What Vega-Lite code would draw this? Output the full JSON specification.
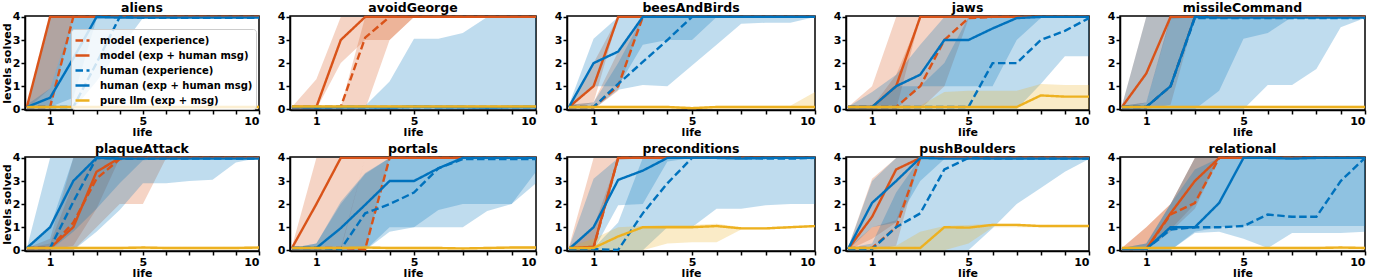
{"$schema":"https://vega.github.io/schema/vega-lite/v6.json",
"padding":{"left":0,"top":1,"right":0,"bottom":0},
"bounds":"flush",
"columns":5,
"spacing":{"row":47,"column":31},
"data":{"values":[
{"g":"al","s":"mE","x":0,"y":0.1,"lo":0,"hi":0.2},{"g":"al","s":"mE","x":1,"y":0.1,"lo":0,"hi":4},{"g":"al","s":"mE","x":2,"y":4,"lo":4,"hi":4},{"g":"al","s":"mE","x":3,"y":4,"lo":4,"hi":4},{"g":"al","s":"mE","x":4,"y":4,"lo":4,"hi":4},{"g":"al","s":"mE","x":5,"y":4,"lo":4,"hi":4},{"g":"al","s":"mE","x":6,"y":4,"lo":4,"hi":4},{"g":"al","s":"mE","x":7,"y":4,"lo":4,"hi":4},{"g":"al","s":"mE","x":8,"y":4,"lo":4,"hi":4},{"g":"al","s":"mE","x":9,"y":4,"lo":4,"hi":4},{"g":"al","s":"mE","x":10,"y":4,"lo":4,"hi":4},
{"g":"al","s":"mH","x":0,"y":0.1,"lo":0,"hi":0.2},{"g":"al","s":"mH","x":1,"y":4,"lo":0.9,"hi":4},{"g":"al","s":"mH","x":2,"y":4,"lo":4,"hi":4},{"g":"al","s":"mH","x":3,"y":4,"lo":4,"hi":4},{"g":"al","s":"mH","x":4,"y":4,"lo":4,"hi":4},{"g":"al","s":"mH","x":5,"y":4,"lo":4,"hi":4},{"g":"al","s":"mH","x":6,"y":4,"lo":4,"hi":4},{"g":"al","s":"mH","x":7,"y":4,"lo":4,"hi":4},{"g":"al","s":"mH","x":8,"y":4,"lo":4,"hi":4},{"g":"al","s":"mH","x":9,"y":4,"lo":4,"hi":4},{"g":"al","s":"mH","x":10,"y":4,"lo":4,"hi":4},
{"g":"al","s":"hE","x":0,"y":0.1,"lo":0,"hi":0.2},{"g":"al","s":"hE","x":1,"y":0.1,"lo":0,"hi":4},{"g":"al","s":"hE","x":2,"y":0.1,"lo":0,"hi":4},{"g":"al","s":"hE","x":3,"y":2,"lo":1.2,"hi":4},{"g":"al","s":"hE","x":4,"y":4,"lo":2.6,"hi":4},{"g":"al","s":"hE","x":5,"y":3.96,"lo":3.95,"hi":4},{"g":"al","s":"hE","x":6,"y":3.96,"lo":3.95,"hi":4},{"g":"al","s":"hE","x":7,"y":3.96,"lo":3.95,"hi":4},{"g":"al","s":"hE","x":8,"y":3.96,"lo":3.95,"hi":4},{"g":"al","s":"hE","x":9,"y":3.96,"lo":3.95,"hi":4},{"g":"al","s":"hE","x":10,"y":3.96,"lo":3.95,"hi":4},
{"g":"al","s":"hH","x":0,"y":0.1,"lo":0,"hi":0.2},{"g":"al","s":"hH","x":1,"y":0.5,"lo":0.1,"hi":0.9},{"g":"al","s":"hH","x":2,"y":2.2,"lo":0.5,"hi":4},{"g":"al","s":"hH","x":3,"y":4,"lo":3.9,"hi":4},{"g":"al","s":"hH","x":4,"y":3.97,"lo":3.95,"hi":4},{"g":"al","s":"hH","x":5,"y":3.97,"lo":3.95,"hi":4},{"g":"al","s":"hH","x":6,"y":3.97,"lo":3.95,"hi":4},{"g":"al","s":"hH","x":7,"y":3.97,"lo":3.95,"hi":4},{"g":"al","s":"hH","x":8,"y":3.97,"lo":3.95,"hi":4},{"g":"al","s":"hH","x":9,"y":3.97,"lo":3.95,"hi":4},{"g":"al","s":"hH","x":10,"y":3.97,"lo":3.95,"hi":4},
{"g":"al","s":"pl","x":0,"y":0.1,"lo":0.03,"hi":0.15},{"g":"al","s":"pl","x":1,"y":0.1,"lo":0.03,"hi":0.15},{"g":"al","s":"pl","x":2,"y":0.1,"lo":0.03,"hi":0.15},{"g":"al","s":"pl","x":3,"y":0.1,"lo":0.03,"hi":0.15},{"g":"al","s":"pl","x":4,"y":0.1,"lo":0.03,"hi":0.15},{"g":"al","s":"pl","x":5,"y":0.1,"lo":0.03,"hi":0.15},{"g":"al","s":"pl","x":6,"y":0.1,"lo":0.03,"hi":0.15},{"g":"al","s":"pl","x":7,"y":0.1,"lo":0.03,"hi":0.15},{"g":"al","s":"pl","x":8,"y":0.1,"lo":0.03,"hi":0.15},{"g":"al","s":"pl","x":9,"y":0.1,"lo":0.03,"hi":0.15},{"g":"al","s":"pl","x":10,"y":0.1,"lo":0.03,"hi":0.15},

{"g":"ag","s":"mE","x":0,"y":0.1,"lo":0,"hi":0.1},{"g":"ag","s":"mE","x":1,"y":0.1,"lo":0,"hi":0.1},{"g":"ag","s":"mE","x":2,"y":0.1,"lo":0,"hi":0.1},{"g":"ag","s":"mE","x":3,"y":3.1,"lo":0,"hi":4},{"g":"ag","s":"mE","x":4,"y":4,"lo":3,"hi":4},{"g":"ag","s":"mE","x":5,"y":4,"lo":4,"hi":4},{"g":"ag","s":"mE","x":6,"y":4,"lo":4,"hi":4},{"g":"ag","s":"mE","x":7,"y":4,"lo":4,"hi":4},{"g":"ag","s":"mE","x":8,"y":4,"lo":4,"hi":4},{"g":"ag","s":"mE","x":9,"y":4,"lo":4,"hi":4},{"g":"ag","s":"mE","x":10,"y":4,"lo":4,"hi":4},
{"g":"ag","s":"mH","x":0,"y":0.1,"lo":0,"hi":0.1},{"g":"ag","s":"mH","x":1,"y":0.1,"lo":0,"hi":1.3},{"g":"ag","s":"mH","x":2,"y":3,"lo":2,"hi":4},{"g":"ag","s":"mH","x":3,"y":4,"lo":3,"hi":4},{"g":"ag","s":"mH","x":4,"y":4,"lo":3,"hi":4},{"g":"ag","s":"mH","x":5,"y":4,"lo":4,"hi":4},{"g":"ag","s":"mH","x":6,"y":4,"lo":4,"hi":4},{"g":"ag","s":"mH","x":7,"y":4,"lo":4,"hi":4},{"g":"ag","s":"mH","x":8,"y":4,"lo":4,"hi":4},{"g":"ag","s":"mH","x":9,"y":4,"lo":4,"hi":4},{"g":"ag","s":"mH","x":10,"y":4,"lo":4,"hi":4},
{"g":"ag","s":"hE","x":0,"y":0.1,"lo":0,"hi":0.15},{"g":"ag","s":"hE","x":1,"y":0.1,"lo":0,"hi":0.15},{"g":"ag","s":"hE","x":2,"y":0.1,"lo":0,"hi":0.15},{"g":"ag","s":"hE","x":3,"y":0.1,"lo":0,"hi":0.15},{"g":"ag","s":"hE","x":4,"y":0.1,"lo":0,"hi":0.15},{"g":"ag","s":"hE","x":5,"y":0.1,"lo":0,"hi":0.15},{"g":"ag","s":"hE","x":6,"y":0.1,"lo":0,"hi":0.15},{"g":"ag","s":"hE","x":7,"y":0.1,"lo":0,"hi":0.15},{"g":"ag","s":"hE","x":8,"y":0.1,"lo":0,"hi":0.15},{"g":"ag","s":"hE","x":9,"y":0.1,"lo":0,"hi":0.15},{"g":"ag","s":"hE","x":10,"y":0.1,"lo":0,"hi":0.15},
{"g":"ag","s":"hH","x":0,"y":0.1,"lo":0,"hi":0.15},{"g":"ag","s":"hH","x":1,"y":0.08,"lo":0,"hi":0.15},{"g":"ag","s":"hH","x":2,"y":0.1,"lo":0,"hi":0.15},{"g":"ag","s":"hH","x":3,"y":0.1,"lo":0,"hi":0.15},{"g":"ag","s":"hH","x":4,"y":0.08,"lo":0,"hi":1.2},{"g":"ag","s":"hH","x":5,"y":0.12,"lo":0,"hi":3.05},{"g":"ag","s":"hH","x":6,"y":0.1,"lo":0,"hi":3.05},{"g":"ag","s":"hH","x":7,"y":0.1,"lo":0,"hi":3.3},{"g":"ag","s":"hH","x":8,"y":0.08,"lo":0,"hi":4},{"g":"ag","s":"hH","x":9,"y":0.1,"lo":0,"hi":4},{"g":"ag","s":"hH","x":10,"y":0.1,"lo":0,"hi":4},
{"g":"ag","s":"pl","x":0,"y":0.12,"lo":0.05,"hi":0.18},{"g":"ag","s":"pl","x":1,"y":0.12,"lo":0.05,"hi":0.18},{"g":"ag","s":"pl","x":2,"y":0.12,"lo":0.05,"hi":0.18},{"g":"ag","s":"pl","x":3,"y":0.12,"lo":0.05,"hi":0.18},{"g":"ag","s":"pl","x":4,"y":0.12,"lo":0.05,"hi":0.18},{"g":"ag","s":"pl","x":5,"y":0.12,"lo":0.05,"hi":0.18},{"g":"ag","s":"pl","x":6,"y":0.12,"lo":0.05,"hi":0.18},{"g":"ag","s":"pl","x":7,"y":0.12,"lo":0.05,"hi":0.18},{"g":"ag","s":"pl","x":8,"y":0.12,"lo":0.05,"hi":0.18},{"g":"ag","s":"pl","x":9,"y":0.12,"lo":0.05,"hi":0.18},{"g":"ag","s":"pl","x":10,"y":0.12,"lo":0.05,"hi":0.18},

{"g":"bb","s":"mE","x":0,"y":0.1,"lo":0,"hi":0.2},{"g":"bb","s":"mE","x":1,"y":0.1,"lo":0,"hi":0.3},{"g":"bb","s":"mE","x":2,"y":1,"lo":0.8,"hi":2.5},{"g":"bb","s":"mE","x":3,"y":4,"lo":4,"hi":4},{"g":"bb","s":"mE","x":4,"y":4,"lo":4,"hi":4},{"g":"bb","s":"mE","x":5,"y":4,"lo":4,"hi":4},{"g":"bb","s":"mE","x":6,"y":4,"lo":4,"hi":4},{"g":"bb","s":"mE","x":7,"y":4,"lo":4,"hi":4},{"g":"bb","s":"mE","x":8,"y":4,"lo":4,"hi":4},{"g":"bb","s":"mE","x":9,"y":4,"lo":4,"hi":4},{"g":"bb","s":"mE","x":10,"y":4,"lo":4,"hi":4},
{"g":"bb","s":"mH","x":0,"y":0.1,"lo":0,"hi":0.2},{"g":"bb","s":"mH","x":1,"y":1,"lo":0.3,"hi":2},{"g":"bb","s":"mH","x":2,"y":4,"lo":4,"hi":4},{"g":"bb","s":"mH","x":3,"y":4,"lo":4,"hi":4},{"g":"bb","s":"mH","x":4,"y":4,"lo":4,"hi":4},{"g":"bb","s":"mH","x":5,"y":4,"lo":4,"hi":4},{"g":"bb","s":"mH","x":6,"y":4,"lo":4,"hi":4},{"g":"bb","s":"mH","x":7,"y":4,"lo":4,"hi":4},{"g":"bb","s":"mH","x":8,"y":4,"lo":4,"hi":4},{"g":"bb","s":"mH","x":9,"y":4,"lo":4,"hi":4},{"g":"bb","s":"mH","x":10,"y":4,"lo":4,"hi":4},
{"g":"bb","s":"hE","x":0,"y":0.1,"lo":0,"hi":0.2},{"g":"bb","s":"hE","x":1,"y":0.1,"lo":0,"hi":0.3},{"g":"bb","s":"hE","x":2,"y":1.1,"lo":0.85,"hi":2},{"g":"bb","s":"hE","x":3,"y":2.05,"lo":1.05,"hi":4},{"g":"bb","s":"hE","x":4,"y":3,"lo":1,"hi":4},{"g":"bb","s":"hE","x":5,"y":4,"lo":1.9,"hi":4},{"g":"bb","s":"hE","x":6,"y":4,"lo":2.8,"hi":4},{"g":"bb","s":"hE","x":7,"y":4,"lo":3.7,"hi":4},{"g":"bb","s":"hE","x":8,"y":4,"lo":3.75,"hi":4},{"g":"bb","s":"hE","x":9,"y":4,"lo":3.75,"hi":4},{"g":"bb","s":"hE","x":10,"y":4,"lo":4,"hi":4},
{"g":"bb","s":"hH","x":0,"y":0.1,"lo":0,"hi":0.2},{"g":"bb","s":"hH","x":1,"y":2,"lo":1,"hi":3.05},{"g":"bb","s":"hH","x":2,"y":2.5,"lo":1,"hi":4},{"g":"bb","s":"hH","x":3,"y":4,"lo":2.8,"hi":4},{"g":"bb","s":"hH","x":4,"y":4,"lo":3,"hi":4},{"g":"bb","s":"hH","x":5,"y":4,"lo":3,"hi":4},{"g":"bb","s":"hH","x":6,"y":4,"lo":4,"hi":4},{"g":"bb","s":"hH","x":7,"y":4,"lo":4,"hi":4},{"g":"bb","s":"hH","x":8,"y":4,"lo":4,"hi":4},{"g":"bb","s":"hH","x":9,"y":4,"lo":4,"hi":4},{"g":"bb","s":"hH","x":10,"y":4,"lo":4,"hi":4},
{"g":"bb","s":"pl","x":0,"y":0.1,"lo":0.02,"hi":0.15},{"g":"bb","s":"pl","x":1,"y":0.1,"lo":0.02,"hi":0.15},{"g":"bb","s":"pl","x":2,"y":0.1,"lo":0.02,"hi":0.15},{"g":"bb","s":"pl","x":3,"y":0.1,"lo":0.02,"hi":0.15},{"g":"bb","s":"pl","x":4,"y":0.1,"lo":0.02,"hi":0.15},{"g":"bb","s":"pl","x":5,"y":0.05,"lo":0.02,"hi":0.1},{"g":"bb","s":"pl","x":6,"y":0.1,"lo":0.02,"hi":0.15},{"g":"bb","s":"pl","x":7,"y":0.1,"lo":0.02,"hi":0.15},{"g":"bb","s":"pl","x":8,"y":0.1,"lo":0.02,"hi":0.15},{"g":"bb","s":"pl","x":9,"y":0.1,"lo":0.02,"hi":0.15},{"g":"bb","s":"pl","x":10,"y":0.1,"lo":0.02,"hi":0.75},

{"g":"jw","s":"mE","x":0,"y":0.1,"lo":0,"hi":0.1},{"g":"jw","s":"mE","x":1,"y":0.1,"lo":0,"hi":0.1},{"g":"jw","s":"mE","x":2,"y":0.1,"lo":0,"hi":1.5},{"g":"jw","s":"mE","x":3,"y":1,"lo":0,"hi":4},{"g":"jw","s":"mE","x":4,"y":3,"lo":1,"hi":4},{"g":"jw","s":"mE","x":5,"y":3.95,"lo":3.9,"hi":4},{"g":"jw","s":"mE","x":6,"y":4,"lo":4,"hi":4},{"g":"jw","s":"mE","x":7,"y":4,"lo":4,"hi":4},{"g":"jw","s":"mE","x":8,"y":4,"lo":4,"hi":4},{"g":"jw","s":"mE","x":9,"y":4,"lo":4,"hi":4},{"g":"jw","s":"mE","x":10,"y":4,"lo":4,"hi":4},
{"g":"jw","s":"mH","x":0,"y":0.1,"lo":0,"hi":0.1},{"g":"jw","s":"mH","x":1,"y":0.1,"lo":0,"hi":1},{"g":"jw","s":"mH","x":2,"y":1,"lo":0,"hi":4},{"g":"jw","s":"mH","x":3,"y":4,"lo":4,"hi":4},{"g":"jw","s":"mH","x":4,"y":4,"lo":4,"hi":4},{"g":"jw","s":"mH","x":5,"y":4,"lo":4,"hi":4},{"g":"jw","s":"mH","x":6,"y":4,"lo":4,"hi":4},{"g":"jw","s":"mH","x":7,"y":4,"lo":4,"hi":4},{"g":"jw","s":"mH","x":8,"y":4,"lo":4,"hi":4},{"g":"jw","s":"mH","x":9,"y":4,"lo":4,"hi":4},{"g":"jw","s":"mH","x":10,"y":4,"lo":4,"hi":4},
{"g":"jw","s":"hE","x":0,"y":0.1,"lo":0,"hi":0.1},{"g":"jw","s":"hE","x":1,"y":0.1,"lo":0,"hi":0.1},{"g":"jw","s":"hE","x":2,"y":0.1,"lo":0,"hi":1},{"g":"jw","s":"hE","x":3,"y":0.1,"lo":0,"hi":1},{"g":"jw","s":"hE","x":4,"y":0.1,"lo":0,"hi":2},{"g":"jw","s":"hE","x":5,"y":0.1,"lo":0,"hi":4},{"g":"jw","s":"hE","x":6,"y":2,"lo":0,"hi":4},{"g":"jw","s":"hE","x":7,"y":2,"lo":0,"hi":4},{"g":"jw","s":"hE","x":8,"y":3,"lo":1.1,"hi":4},{"g":"jw","s":"hE","x":9,"y":3.4,"lo":2.3,"hi":4},{"g":"jw","s":"hE","x":10,"y":3.95,"lo":2.3,"hi":4},
{"g":"jw","s":"hH","x":0,"y":0.1,"lo":0,"hi":0.1},{"g":"jw","s":"hH","x":1,"y":0.1,"lo":0,"hi":0.75},{"g":"jw","s":"hH","x":2,"y":1,"lo":0,"hi":1.5},{"g":"jw","s":"hH","x":3,"y":1.5,"lo":1,"hi":2.8},{"g":"jw","s":"hH","x":4,"y":3,"lo":1,"hi":4},{"g":"jw","s":"hH","x":5,"y":3,"lo":1,"hi":4},{"g":"jw","s":"hH","x":6,"y":3.5,"lo":1,"hi":4},{"g":"jw","s":"hH","x":7,"y":3.95,"lo":3,"hi":4},{"g":"jw","s":"hH","x":8,"y":4,"lo":3.95,"hi":4},{"g":"jw","s":"hH","x":9,"y":4,"lo":3.95,"hi":4},{"g":"jw","s":"hH","x":10,"y":4,"lo":3.95,"hi":4},
{"g":"jw","s":"pl","x":0,"y":0.1,"lo":0,"hi":0.15},{"g":"jw","s":"pl","x":1,"y":0.1,"lo":0,"hi":0.15},{"g":"jw","s":"pl","x":2,"y":0.1,"lo":0,"hi":0.15},{"g":"jw","s":"pl","x":3,"y":0.1,"lo":0,"hi":0.15},{"g":"jw","s":"pl","x":4,"y":0.1,"lo":0,"hi":0.75},{"g":"jw","s":"pl","x":5,"y":0.1,"lo":0,"hi":0.8},{"g":"jw","s":"pl","x":6,"y":0.1,"lo":0,"hi":0.8},{"g":"jw","s":"pl","x":7,"y":0.1,"lo":0,"hi":0.8},{"g":"jw","s":"pl","x":8,"y":0.6,"lo":0,"hi":1.1},{"g":"jw","s":"pl","x":9,"y":0.55,"lo":0,"hi":1.05},{"g":"jw","s":"pl","x":10,"y":0.55,"lo":0,"hi":1.05},

{"g":"mc","s":"mE","x":0,"y":0.1,"lo":0,"hi":0.15},{"g":"mc","s":"mE","x":1,"y":0.1,"lo":0,"hi":0.3},{"g":"mc","s":"mE","x":2,"y":1,"lo":0.2,"hi":4},{"g":"mc","s":"mE","x":3,"y":4,"lo":4,"hi":4},{"g":"mc","s":"mE","x":4,"y":4,"lo":4,"hi":4},{"g":"mc","s":"mE","x":5,"y":4,"lo":4,"hi":4},{"g":"mc","s":"mE","x":6,"y":4,"lo":4,"hi":4},{"g":"mc","s":"mE","x":7,"y":4,"lo":4,"hi":4},{"g":"mc","s":"mE","x":8,"y":4,"lo":4,"hi":4},{"g":"mc","s":"mE","x":9,"y":4,"lo":4,"hi":4},{"g":"mc","s":"mE","x":10,"y":4,"lo":4,"hi":4},
{"g":"mc","s":"mH","x":0,"y":0.1,"lo":0,"hi":0.15},{"g":"mc","s":"mH","x":1,"y":1.55,"lo":0.3,"hi":4},{"g":"mc","s":"mH","x":2,"y":4,"lo":3.9,"hi":4},{"g":"mc","s":"mH","x":3,"y":4,"lo":4,"hi":4},{"g":"mc","s":"mH","x":4,"y":4,"lo":4,"hi":4},{"g":"mc","s":"mH","x":5,"y":4,"lo":4,"hi":4},{"g":"mc","s":"mH","x":6,"y":4,"lo":4,"hi":4},{"g":"mc","s":"mH","x":7,"y":4,"lo":4,"hi":4},{"g":"mc","s":"mH","x":8,"y":4,"lo":4,"hi":4},{"g":"mc","s":"mH","x":9,"y":4,"lo":4,"hi":4},{"g":"mc","s":"mH","x":10,"y":4,"lo":4,"hi":4},
{"g":"mc","s":"hE","x":0,"y":0.1,"lo":0,"hi":0.15},{"g":"mc","s":"hE","x":1,"y":0.1,"lo":0,"hi":4},{"g":"mc","s":"hE","x":2,"y":1,"lo":0,"hi":4},{"g":"mc","s":"hE","x":3,"y":3.95,"lo":0,"hi":4},{"g":"mc","s":"hE","x":4,"y":3.95,"lo":0,"hi":4},{"g":"mc","s":"hE","x":5,"y":3.95,"lo":0,"hi":4},{"g":"mc","s":"hE","x":6,"y":3.95,"lo":1.05,"hi":4},{"g":"mc","s":"hE","x":7,"y":3.95,"lo":1.05,"hi":4},{"g":"mc","s":"hE","x":8,"y":3.95,"lo":1.75,"hi":4},{"g":"mc","s":"hE","x":9,"y":3.95,"lo":3.55,"hi":4},{"g":"mc","s":"hE","x":10,"y":3.95,"lo":3.95,"hi":4},
{"g":"mc","s":"hH","x":0,"y":0.1,"lo":0,"hi":0.15},{"g":"mc","s":"hH","x":1,"y":0.1,"lo":0,"hi":0.3},{"g":"mc","s":"hH","x":2,"y":1,"lo":0,"hi":4},{"g":"mc","s":"hH","x":3,"y":4,"lo":0,"hi":4},{"g":"mc","s":"hH","x":4,"y":3.97,"lo":0.8,"hi":4},{"g":"mc","s":"hH","x":5,"y":3.97,"lo":3.05,"hi":4},{"g":"mc","s":"hH","x":6,"y":3.97,"lo":3.3,"hi":4},{"g":"mc","s":"hH","x":7,"y":3.97,"lo":4,"hi":4},{"g":"mc","s":"hH","x":8,"y":3.97,"lo":4,"hi":4},{"g":"mc","s":"hH","x":9,"y":3.97,"lo":4,"hi":4},{"g":"mc","s":"hH","x":10,"y":3.97,"lo":4,"hi":4},
{"g":"mc","s":"pl","x":0,"y":0.1,"lo":0.03,"hi":0.15},{"g":"mc","s":"pl","x":1,"y":0.1,"lo":0.03,"hi":0.15},{"g":"mc","s":"pl","x":2,"y":0.1,"lo":0.03,"hi":0.15},{"g":"mc","s":"pl","x":3,"y":0.1,"lo":0.03,"hi":0.15},{"g":"mc","s":"pl","x":4,"y":0.1,"lo":0.03,"hi":0.15},{"g":"mc","s":"pl","x":5,"y":0.1,"lo":0.03,"hi":0.15},{"g":"mc","s":"pl","x":6,"y":0.1,"lo":0.03,"hi":0.15},{"g":"mc","s":"pl","x":7,"y":0.1,"lo":0.03,"hi":0.15},{"g":"mc","s":"pl","x":8,"y":0.1,"lo":0.03,"hi":0.15},{"g":"mc","s":"pl","x":9,"y":0.1,"lo":0.03,"hi":0.15},{"g":"mc","s":"pl","x":10,"y":0.1,"lo":0.03,"hi":0.15},

{"g":"pa","s":"mE","x":0,"y":0.1,"lo":0,"hi":0.1},{"g":"pa","s":"mE","x":1,"y":0.1,"lo":0,"hi":0.3},{"g":"pa","s":"mE","x":2,"y":1.2,"lo":0,"hi":2.9},{"g":"pa","s":"mE","x":3,"y":3.1,"lo":1,"hi":4},{"g":"pa","s":"mE","x":4,"y":3.95,"lo":2,"hi":4},{"g":"pa","s":"mE","x":5,"y":4,"lo":2,"hi":4},{"g":"pa","s":"mE","x":6,"y":4,"lo":4,"hi":4},{"g":"pa","s":"mE","x":7,"y":4,"lo":4,"hi":4},{"g":"pa","s":"mE","x":8,"y":4,"lo":4,"hi":4},{"g":"pa","s":"mE","x":9,"y":4,"lo":4,"hi":4},{"g":"pa","s":"mE","x":10,"y":4,"lo":4,"hi":4},
{"g":"pa","s":"mH","x":0,"y":0.1,"lo":0,"hi":0.1},{"g":"pa","s":"mH","x":1,"y":0.1,"lo":0,"hi":0.5},{"g":"pa","s":"mH","x":2,"y":1,"lo":0.2,"hi":4},{"g":"pa","s":"mH","x":3,"y":3.4,"lo":1.8,"hi":4},{"g":"pa","s":"mH","x":4,"y":4,"lo":4,"hi":4},{"g":"pa","s":"mH","x":5,"y":4,"lo":4,"hi":4},{"g":"pa","s":"mH","x":6,"y":4,"lo":4,"hi":4},{"g":"pa","s":"mH","x":7,"y":4,"lo":4,"hi":4},{"g":"pa","s":"mH","x":8,"y":4,"lo":4,"hi":4},{"g":"pa","s":"mH","x":9,"y":4,"lo":4,"hi":4},{"g":"pa","s":"mH","x":10,"y":4,"lo":4,"hi":4},
{"g":"pa","s":"hE","x":0,"y":0.1,"lo":0,"hi":0.1},{"g":"pa","s":"hE","x":1,"y":0.1,"lo":0,"hi":1},{"g":"pa","s":"hE","x":2,"y":2.1,"lo":0,"hi":4},{"g":"pa","s":"hE","x":3,"y":4,"lo":0.8,"hi":4},{"g":"pa","s":"hE","x":4,"y":3.97,"lo":1.75,"hi":4},{"g":"pa","s":"hE","x":5,"y":3.97,"lo":2.9,"hi":4},{"g":"pa","s":"hE","x":6,"y":3.97,"lo":2.9,"hi":4},{"g":"pa","s":"hE","x":7,"y":3.97,"lo":3,"hi":4},{"g":"pa","s":"hE","x":8,"y":3.97,"lo":3.05,"hi":4},{"g":"pa","s":"hE","x":9,"y":3.97,"lo":3.8,"hi":4},{"g":"pa","s":"hE","x":10,"y":3.97,"lo":4,"hi":4},
{"g":"pa","s":"hH","x":0,"y":0.1,"lo":0,"hi":0.1},{"g":"pa","s":"hH","x":1,"y":1,"lo":0,"hi":4},{"g":"pa","s":"hH","x":2,"y":3,"lo":0.8,"hi":4},{"g":"pa","s":"hH","x":3,"y":4,"lo":1.8,"hi":4},{"g":"pa","s":"hH","x":4,"y":3.97,"lo":2.9,"hi":4},{"g":"pa","s":"hH","x":5,"y":3.97,"lo":3.9,"hi":4},{"g":"pa","s":"hH","x":6,"y":3.97,"lo":3.95,"hi":4},{"g":"pa","s":"hH","x":7,"y":3.97,"lo":3.95,"hi":4},{"g":"pa","s":"hH","x":8,"y":3.97,"lo":3.95,"hi":4},{"g":"pa","s":"hH","x":9,"y":3.97,"lo":3.95,"hi":4},{"g":"pa","s":"hH","x":10,"y":3.97,"lo":3.95,"hi":4},
{"g":"pa","s":"pl","x":0,"y":0.1,"lo":0.03,"hi":0.15},{"g":"pa","s":"pl","x":1,"y":0.1,"lo":0.03,"hi":0.15},{"g":"pa","s":"pl","x":2,"y":0.1,"lo":0.03,"hi":0.15},{"g":"pa","s":"pl","x":3,"y":0.1,"lo":0.03,"hi":0.15},{"g":"pa","s":"pl","x":4,"y":0.1,"lo":0.03,"hi":0.15},{"g":"pa","s":"pl","x":5,"y":0.12,"lo":0.03,"hi":0.18},{"g":"pa","s":"pl","x":6,"y":0.1,"lo":0.03,"hi":0.15},{"g":"pa","s":"pl","x":7,"y":0.1,"lo":0.03,"hi":0.15},{"g":"pa","s":"pl","x":8,"y":0.1,"lo":0.03,"hi":0.15},{"g":"pa","s":"pl","x":9,"y":0.1,"lo":0.03,"hi":0.15},{"g":"pa","s":"pl","x":10,"y":0.12,"lo":0.03,"hi":0.18},

{"g":"po","s":"mE","x":0,"y":0.1,"lo":0,"hi":0.1},{"g":"po","s":"mE","x":1,"y":0.1,"lo":0,"hi":0.1},{"g":"po","s":"mE","x":2,"y":0.1,"lo":0,"hi":0.1},{"g":"po","s":"mE","x":3,"y":0.05,"lo":0,"hi":4},{"g":"po","s":"mE","x":4,"y":4,"lo":4,"hi":4},{"g":"po","s":"mE","x":5,"y":4,"lo":4,"hi":4},{"g":"po","s":"mE","x":6,"y":4,"lo":4,"hi":4},{"g":"po","s":"mE","x":7,"y":4,"lo":4,"hi":4},{"g":"po","s":"mE","x":8,"y":4,"lo":4,"hi":4},{"g":"po","s":"mE","x":9,"y":4,"lo":4,"hi":4},{"g":"po","s":"mE","x":10,"y":4,"lo":4,"hi":4},
{"g":"po","s":"mH","x":0,"y":0.1,"lo":0,"hi":0.15},{"g":"po","s":"mH","x":1,"y":2,"lo":0,"hi":4},{"g":"po","s":"mH","x":2,"y":4,"lo":0,"hi":4},{"g":"po","s":"mH","x":3,"y":4,"lo":4,"hi":4},{"g":"po","s":"mH","x":4,"y":4,"lo":4,"hi":4},{"g":"po","s":"mH","x":5,"y":4,"lo":4,"hi":4},{"g":"po","s":"mH","x":6,"y":4,"lo":4,"hi":4},{"g":"po","s":"mH","x":7,"y":4,"lo":4,"hi":4},{"g":"po","s":"mH","x":8,"y":4,"lo":4,"hi":4},{"g":"po","s":"mH","x":9,"y":4,"lo":4,"hi":4},{"g":"po","s":"mH","x":10,"y":4,"lo":4,"hi":4},
{"g":"po","s":"hE","x":0,"y":0.1,"lo":0,"hi":0.1},{"g":"po","s":"hE","x":1,"y":0.1,"lo":0,"hi":0.3},{"g":"po","s":"hE","x":2,"y":0.05,"lo":0,"hi":2},{"g":"po","s":"hE","x":3,"y":1.6,"lo":0,"hi":3.3},{"g":"po","s":"hE","x":4,"y":2,"lo":0.8,"hi":4},{"g":"po","s":"hE","x":5,"y":2.5,"lo":1,"hi":4},{"g":"po","s":"hE","x":6,"y":3.55,"lo":1,"hi":4},{"g":"po","s":"hE","x":7,"y":3.95,"lo":1,"hi":4},{"g":"po","s":"hE","x":8,"y":3.95,"lo":1.7,"hi":4},{"g":"po","s":"hE","x":9,"y":3.95,"lo":2,"hi":4},{"g":"po","s":"hE","x":10,"y":3.95,"lo":2.9,"hi":4},
{"g":"po","s":"hH","x":0,"y":0.1,"lo":0,"hi":0.1},{"g":"po","s":"hH","x":1,"y":0.1,"lo":0,"hi":0.3},{"g":"po","s":"hH","x":2,"y":0.96,"lo":0,"hi":2.1},{"g":"po","s":"hH","x":3,"y":1.97,"lo":0,"hi":3.35},{"g":"po","s":"hH","x":4,"y":3,"lo":1,"hi":4},{"g":"po","s":"hH","x":5,"y":3,"lo":1,"hi":4},{"g":"po","s":"hH","x":6,"y":3.55,"lo":1.75,"hi":4},{"g":"po","s":"hH","x":7,"y":4,"lo":2,"hi":4},{"g":"po","s":"hH","x":8,"y":4,"lo":2,"hi":4},{"g":"po","s":"hH","x":9,"y":4,"lo":2,"hi":4},{"g":"po","s":"hH","x":10,"y":4,"lo":3.4,"hi":4},
{"g":"po","s":"pl","x":0,"y":0.1,"lo":0.03,"hi":0.15},{"g":"po","s":"pl","x":1,"y":0.1,"lo":0.03,"hi":0.15},{"g":"po","s":"pl","x":2,"y":0.1,"lo":0.03,"hi":0.15},{"g":"po","s":"pl","x":3,"y":0.12,"lo":0.03,"hi":0.18},{"g":"po","s":"pl","x":4,"y":0.1,"lo":0.03,"hi":0.15},{"g":"po","s":"pl","x":5,"y":0.1,"lo":0.03,"hi":0.15},{"g":"po","s":"pl","x":6,"y":0.1,"lo":0.03,"hi":0.15},{"g":"po","s":"pl","x":7,"y":0.08,"lo":0.03,"hi":0.12},{"g":"po","s":"pl","x":8,"y":0.1,"lo":0.03,"hi":0.15},{"g":"po","s":"pl","x":9,"y":0.12,"lo":0.03,"hi":0.18},{"g":"po","s":"pl","x":10,"y":0.12,"lo":0.03,"hi":0.18},

{"g":"pc","s":"mE","x":0,"y":0.1,"lo":0,"hi":0.15},{"g":"pc","s":"mE","x":1,"y":0.1,"lo":0,"hi":1},{"g":"pc","s":"mE","x":2,"y":4,"lo":4,"hi":4},{"g":"pc","s":"mE","x":3,"y":4,"lo":4,"hi":4},{"g":"pc","s":"mE","x":4,"y":4,"lo":4,"hi":4},{"g":"pc","s":"mE","x":5,"y":4,"lo":4,"hi":4},{"g":"pc","s":"mE","x":6,"y":4,"lo":4,"hi":4},{"g":"pc","s":"mE","x":7,"y":4,"lo":4,"hi":4},{"g":"pc","s":"mE","x":8,"y":4,"lo":4,"hi":4},{"g":"pc","s":"mE","x":9,"y":4,"lo":4,"hi":4},{"g":"pc","s":"mE","x":10,"y":4,"lo":4,"hi":4},
{"g":"pc","s":"mH","x":0,"y":0.1,"lo":0,"hi":0.15},{"g":"pc","s":"mH","x":1,"y":0.15,"lo":0,"hi":4},{"g":"pc","s":"mH","x":2,"y":4,"lo":3.9,"hi":4},{"g":"pc","s":"mH","x":3,"y":4,"lo":4,"hi":4},{"g":"pc","s":"mH","x":4,"y":4,"lo":4,"hi":4},{"g":"pc","s":"mH","x":5,"y":4,"lo":4,"hi":4},{"g":"pc","s":"mH","x":6,"y":4,"lo":4,"hi":4},{"g":"pc","s":"mH","x":7,"y":4,"lo":4,"hi":4},{"g":"pc","s":"mH","x":8,"y":4,"lo":4,"hi":4},{"g":"pc","s":"mH","x":9,"y":4,"lo":4,"hi":4},{"g":"pc","s":"mH","x":10,"y":4,"lo":4,"hi":4},
{"g":"pc","s":"hE","x":0,"y":0.05,"lo":0,"hi":0.1},{"g":"pc","s":"hE","x":1,"y":0.05,"lo":0,"hi":0.1},{"g":"pc","s":"hE","x":2,"y":0.02,"lo":0,"hi":1.2},{"g":"pc","s":"hE","x":3,"y":1.6,"lo":0,"hi":4},{"g":"pc","s":"hE","x":4,"y":2.9,"lo":1,"hi":4},{"g":"pc","s":"hE","x":5,"y":4,"lo":1,"hi":4},{"g":"pc","s":"hE","x":6,"y":4,"lo":1.8,"hi":4},{"g":"pc","s":"hE","x":7,"y":4,"lo":1.8,"hi":4},{"g":"pc","s":"hE","x":8,"y":3.97,"lo":1.95,"hi":4},{"g":"pc","s":"hE","x":9,"y":3.97,"lo":2,"hi":4},{"g":"pc","s":"hE","x":10,"y":4,"lo":2,"hi":4},
{"g":"pc","s":"hH","x":0,"y":0.05,"lo":0,"hi":0.1},{"g":"pc","s":"hH","x":1,"y":1,"lo":0,"hi":3.1},{"g":"pc","s":"hH","x":2,"y":3.05,"lo":1.95,"hi":4},{"g":"pc","s":"hH","x":3,"y":3.45,"lo":2,"hi":4},{"g":"pc","s":"hH","x":4,"y":4,"lo":3.85,"hi":4},{"g":"pc","s":"hH","x":5,"y":4,"lo":4,"hi":4},{"g":"pc","s":"hH","x":6,"y":4,"lo":4,"hi":4},{"g":"pc","s":"hH","x":7,"y":3.97,"lo":3.95,"hi":4},{"g":"pc","s":"hH","x":8,"y":4,"lo":4,"hi":4},{"g":"pc","s":"hH","x":9,"y":4,"lo":4,"hi":4},{"g":"pc","s":"hH","x":10,"y":4,"lo":4,"hi":4},
{"g":"pc","s":"pl","x":0,"y":0.1,"lo":0,"hi":0.15},{"g":"pc","s":"pl","x":1,"y":0.1,"lo":0,"hi":0.5},{"g":"pc","s":"pl","x":2,"y":0.6,"lo":0,"hi":1},{"g":"pc","s":"pl","x":3,"y":1,"lo":0,"hi":1.05},{"g":"pc","s":"pl","x":4,"y":1,"lo":0.3,"hi":1.1},{"g":"pc","s":"pl","x":5,"y":1,"lo":0.35,"hi":1.1},{"g":"pc","s":"pl","x":6,"y":1.05,"lo":0.35,"hi":1.15},{"g":"pc","s":"pl","x":7,"y":0.95,"lo":0.9,"hi":1},{"g":"pc","s":"pl","x":8,"y":0.95,"lo":0.9,"hi":1},{"g":"pc","s":"pl","x":9,"y":1,"lo":0.95,"hi":1.05},{"g":"pc","s":"pl","x":10,"y":1.05,"lo":1,"hi":1.1},

{"g":"pb","s":"mE","x":0,"y":0.1,"lo":0,"hi":0.1},{"g":"pb","s":"mE","x":1,"y":0.1,"lo":0,"hi":1},{"g":"pb","s":"mE","x":2,"y":1,"lo":0.2,"hi":1.3},{"g":"pb","s":"mE","x":3,"y":4,"lo":4,"hi":4},{"g":"pb","s":"mE","x":4,"y":4,"lo":4,"hi":4},{"g":"pb","s":"mE","x":5,"y":4,"lo":4,"hi":4},{"g":"pb","s":"mE","x":6,"y":4,"lo":4,"hi":4},{"g":"pb","s":"mE","x":7,"y":4,"lo":4,"hi":4},{"g":"pb","s":"mE","x":8,"y":4,"lo":4,"hi":4},{"g":"pb","s":"mE","x":9,"y":4,"lo":4,"hi":4},{"g":"pb","s":"mE","x":10,"y":4,"lo":4,"hi":4},
{"g":"pb","s":"mH","x":0,"y":0.05,"lo":0,"hi":0.1},{"g":"pb","s":"mH","x":1,"y":1.45,"lo":0.5,"hi":3.1},{"g":"pb","s":"mH","x":2,"y":3.5,"lo":1.2,"hi":4},{"g":"pb","s":"mH","x":3,"y":4,"lo":4,"hi":4},{"g":"pb","s":"mH","x":4,"y":4,"lo":4,"hi":4},{"g":"pb","s":"mH","x":5,"y":4,"lo":4,"hi":4},{"g":"pb","s":"mH","x":6,"y":4,"lo":4,"hi":4},{"g":"pb","s":"mH","x":7,"y":4,"lo":4,"hi":4},{"g":"pb","s":"mH","x":8,"y":4,"lo":4,"hi":4},{"g":"pb","s":"mH","x":9,"y":4,"lo":4,"hi":4},{"g":"pb","s":"mH","x":10,"y":4,"lo":4,"hi":4},
{"g":"pb","s":"hE","x":0,"y":0.05,"lo":0,"hi":0.1},{"g":"pb","s":"hE","x":1,"y":0.05,"lo":0,"hi":0.3},{"g":"pb","s":"hE","x":2,"y":1,"lo":0,"hi":2.5},{"g":"pb","s":"hE","x":3,"y":1.6,"lo":0,"hi":4},{"g":"pb","s":"hE","x":4,"y":3.5,"lo":0,"hi":4},{"g":"pb","s":"hE","x":5,"y":4,"lo":0,"hi":4},{"g":"pb","s":"hE","x":6,"y":3.97,"lo":0.95,"hi":4},{"g":"pb","s":"hE","x":7,"y":3.97,"lo":2,"hi":4},{"g":"pb","s":"hE","x":8,"y":3.97,"lo":2.7,"hi":4},{"g":"pb","s":"hE","x":9,"y":3.97,"lo":3.4,"hi":4},{"g":"pb","s":"hE","x":10,"y":3.97,"lo":3.95,"hi":4},
{"g":"pb","s":"hH","x":0,"y":0.05,"lo":0,"hi":0.1},{"g":"pb","s":"hH","x":1,"y":2.05,"lo":1,"hi":3},{"g":"pb","s":"hH","x":2,"y":3,"lo":1.2,"hi":4},{"g":"pb","s":"hH","x":3,"y":4,"lo":3,"hi":4},{"g":"pb","s":"hH","x":4,"y":3.97,"lo":3.95,"hi":4},{"g":"pb","s":"hH","x":5,"y":3.97,"lo":3.95,"hi":4},{"g":"pb","s":"hH","x":6,"y":3.97,"lo":3.95,"hi":4},{"g":"pb","s":"hH","x":7,"y":3.97,"lo":3.95,"hi":4},{"g":"pb","s":"hH","x":8,"y":3.97,"lo":3.95,"hi":4},{"g":"pb","s":"hH","x":9,"y":3.97,"lo":3.95,"hi":4},{"g":"pb","s":"hH","x":10,"y":3.97,"lo":3.95,"hi":4},
{"g":"pb","s":"pl","x":0,"y":0.1,"lo":0,"hi":0.15},{"g":"pb","s":"pl","x":1,"y":0.1,"lo":0,"hi":0.15},{"g":"pb","s":"pl","x":2,"y":0.1,"lo":0,"hi":0.2},{"g":"pb","s":"pl","x":3,"y":0.1,"lo":0,"hi":0.8},{"g":"pb","s":"pl","x":4,"y":1,"lo":0,"hi":1.05},{"g":"pb","s":"pl","x":5,"y":0.98,"lo":0.3,"hi":1.1},{"g":"pb","s":"pl","x":6,"y":1.1,"lo":1,"hi":1.15},{"g":"pb","s":"pl","x":7,"y":1.1,"lo":1,"hi":1.15},{"g":"pb","s":"pl","x":8,"y":1.05,"lo":1,"hi":1.1},{"g":"pb","s":"pl","x":9,"y":1.05,"lo":1,"hi":1.1},{"g":"pb","s":"pl","x":10,"y":1.05,"lo":1,"hi":1.1},

{"g":"re","s":"mE","x":0,"y":0.05,"lo":0,"hi":0.1},{"g":"re","s":"mE","x":1,"y":0.05,"lo":0,"hi":1},{"g":"re","s":"mE","x":2,"y":1.55,"lo":0.8,"hi":2},{"g":"re","s":"mE","x":3,"y":2.05,"lo":1.8,"hi":4},{"g":"re","s":"mE","x":4,"y":4,"lo":4,"hi":4},{"g":"re","s":"mE","x":5,"y":4,"lo":4,"hi":4},{"g":"re","s":"mE","x":6,"y":4,"lo":4,"hi":4},{"g":"re","s":"mE","x":7,"y":4,"lo":4,"hi":4},{"g":"re","s":"mE","x":8,"y":4,"lo":4,"hi":4},{"g":"re","s":"mE","x":9,"y":4,"lo":4,"hi":4},{"g":"re","s":"mE","x":10,"y":4,"lo":4,"hi":4},
{"g":"re","s":"mH","x":0,"y":0.05,"lo":0,"hi":0.1},{"g":"re","s":"mH","x":1,"y":0.05,"lo":0,"hi":1},{"g":"re","s":"mH","x":2,"y":1.6,"lo":0.9,"hi":2},{"g":"re","s":"mH","x":3,"y":3,"lo":2,"hi":4},{"g":"re","s":"mH","x":4,"y":4,"lo":4,"hi":4},{"g":"re","s":"mH","x":5,"y":4,"lo":4,"hi":4},{"g":"re","s":"mH","x":6,"y":4,"lo":4,"hi":4},{"g":"re","s":"mH","x":7,"y":4,"lo":4,"hi":4},{"g":"re","s":"mH","x":8,"y":4,"lo":4,"hi":4},{"g":"re","s":"mH","x":9,"y":4,"lo":4,"hi":4},{"g":"re","s":"mH","x":10,"y":4,"lo":4,"hi":4},
{"g":"re","s":"hE","x":0,"y":0.05,"lo":0,"hi":0.1},{"g":"re","s":"hE","x":1,"y":0.05,"lo":0,"hi":0.3},{"g":"re","s":"hE","x":2,"y":0.9,"lo":0,"hi":2},{"g":"re","s":"hE","x":3,"y":1,"lo":0.75,"hi":4},{"g":"re","s":"hE","x":4,"y":1,"lo":0.8,"hi":4},{"g":"re","s":"hE","x":5,"y":1.05,"lo":0.5,"hi":4},{"g":"re","s":"hE","x":6,"y":1.55,"lo":0.1,"hi":4},{"g":"re","s":"hE","x":7,"y":1.45,"lo":0.75,"hi":4},{"g":"re","s":"hE","x":8,"y":1.45,"lo":0.75,"hi":4},{"g":"re","s":"hE","x":9,"y":3,"lo":0.75,"hi":4},{"g":"re","s":"hE","x":10,"y":4,"lo":0.8,"hi":4},
{"g":"re","s":"hH","x":0,"y":0.05,"lo":0,"hi":0.1},{"g":"re","s":"hH","x":1,"y":0.05,"lo":0,"hi":0.3},{"g":"re","s":"hH","x":2,"y":1,"lo":0,"hi":2},{"g":"re","s":"hH","x":3,"y":1,"lo":0.8,"hi":3.5},{"g":"re","s":"hH","x":4,"y":2.05,"lo":1,"hi":4},{"g":"re","s":"hH","x":5,"y":4,"lo":1.05,"hi":4},{"g":"re","s":"hH","x":6,"y":4,"lo":1.05,"hi":4},{"g":"re","s":"hH","x":7,"y":3.97,"lo":1.05,"hi":4},{"g":"re","s":"hH","x":8,"y":4,"lo":1.05,"hi":4},{"g":"re","s":"hH","x":9,"y":4,"lo":1.05,"hi":4},{"g":"re","s":"hH","x":10,"y":4,"lo":1.05,"hi":4},
{"g":"re","s":"pl","x":0,"y":0.1,"lo":0.03,"hi":0.15},{"g":"re","s":"pl","x":1,"y":0.1,"lo":0.03,"hi":0.15},{"g":"re","s":"pl","x":2,"y":0.1,"lo":0.03,"hi":0.15},{"g":"re","s":"pl","x":3,"y":0.1,"lo":0.03,"hi":0.15},{"g":"re","s":"pl","x":4,"y":0.1,"lo":0.03,"hi":0.15},{"g":"re","s":"pl","x":5,"y":0.1,"lo":0.03,"hi":0.15},{"g":"re","s":"pl","x":6,"y":0.1,"lo":0.03,"hi":0.15},{"g":"re","s":"pl","x":7,"y":0.1,"lo":0.03,"hi":0.15},{"g":"re","s":"pl","x":8,"y":0.1,"lo":0.03,"hi":0.15},{"g":"re","s":"pl","x":9,"y":0.12,"lo":0.03,"hi":0.18},{"g":"re","s":"pl","x":10,"y":0.1,"lo":0.03,"hi":0.15}
]},
"concat":[
{"title":"aliens","width":234,"height":94,"transform":[{"filter":"datum.g=='al'"}],
 "encoding":{"x":{"field":"x","type":"quantitative","scale":{"domain":[-0.08,10],"nice":false,"zero":false},"axis":{"title":"life","values":[1,2,3,4,5,6,7,8,9,10],"labelExpr":"datum.value==1||datum.value==5||datum.value==10?datum.label:''"}}},
 "layer":[
  {"mark":{"type":"area","fillOpacity":0.25},"encoding":{"y":{"field":"lo","type":"quantitative","scale":{"domain":[-0.03,4.04],"nice":false,"zero":false},"axis":{"title":"levels solved","values":[0,1,2,3,4]}},"y2":{"field":"hi"},"color":{"field":"s","type":"nominal","scale":{"domain":["mE","mH","hE","hH","pl"],"range":["#D95319","#D95319","#0072BD","#0072BD","#EDB120"]}}}},
  {"mark":{"type":"line","strokeWidth":2.4},"encoding":{"y":{"field":"y","type":"quantitative","axis":{"title":"levels solved","values":[0,1,2,3,4]}},
   "color":{"field":"s","type":"nominal","scale":{"domain":["mE","mH","hE","hH","pl"],"range":["#D95319","#D95319","#0072BD","#0072BD","#EDB120"]},"legend":{"title":null,"orient":"none","legendX":46,"legendY":13,"labelExpr":"datum.value=='mE'?'model (experience)':datum.value=='mH'?'model (exp + human msg)':datum.value=='hE'?'human (experience)':datum.value=='hH'?'human (exp + human msg)':'pure llm (exp + msg)'","symbolType":"stroke","symbolSize":196,"symbolStrokeWidth":2.6,"symbolOpacity":1,"symbolFillColor":"transparent","labelFontSize":10,"labelFontWeight":"bold","labelFont":"DejaVu Sans","labelColor":"black","labelOffset":9,"fillColor":"rgba(255,255,255,0.8)","strokeColor":"#cccccc","cornerRadius":3,"padding":3,"rowPadding":1}},
   "strokeDash":{"field":"s","type":"nominal","scale":{"domain":["mE","mH","hE","hH","pl"],"range":[[7.5,3.5],[1,0],[7.5,3.5],[1,0],[1,0]]},"legend":{"title":null,"orient":"none","legendX":46,"legendY":13,"labelExpr":"datum.value=='mE'?'model (experience)':datum.value=='mH'?'model (exp + human msg)':datum.value=='hE'?'human (experience)':datum.value=='hH'?'human (exp + human msg)':'pure llm (exp + msg)'","symbolType":"stroke","symbolSize":196,"symbolStrokeWidth":2.6,"symbolOpacity":1,"symbolFillColor":"transparent","labelFontSize":10,"labelFontWeight":"bold","labelFont":"DejaVu Sans","labelColor":"black","labelOffset":9,"fillColor":"rgba(255,255,255,0.8)","strokeColor":"#cccccc","cornerRadius":3,"padding":3,"rowPadding":1}}}}
 ]},
{"title":"avoidGeorge","width":246,"height":94,"transform":[{"filter":"datum.g=='ag'"}],
 "encoding":{"x":{"field":"x","type":"quantitative","scale":{"domain":[-0.08,10],"nice":false,"zero":false},"axis":{"title":"life","values":[1,2,3,4,5,6,7,8,9,10],"labelExpr":"datum.value==1||datum.value==5||datum.value==10?datum.label:''"}}},
 "layer":[
  {"mark":{"type":"area","fillOpacity":0.25},"encoding":{"y":{"field":"lo","type":"quantitative","scale":{"domain":[-0.03,4.04],"nice":false,"zero":false},"axis":{"title":null,"values":[0,1,2,3,4]}},"y2":{"field":"hi"},"color":{"field":"s","type":"nominal"}}},
  {"mark":{"type":"line","strokeWidth":2.4},"encoding":{"y":{"field":"y","type":"quantitative","axis":{"title":null,"values":[0,1,2,3,4]}},"color":{"field":"s","type":"nominal"},"strokeDash":{"field":"s","type":"nominal"}}}
 ]},
{"title":"beesAndBirds","width":248,"height":94,"transform":[{"filter":"datum.g=='bb'"}],
 "encoding":{"x":{"field":"x","type":"quantitative","scale":{"domain":[-0.08,10],"nice":false,"zero":false},"axis":{"title":"life","values":[1,2,3,4,5,6,7,8,9,10],"labelExpr":"datum.value==1||datum.value==5||datum.value==10?datum.label:''"}}},
 "layer":[
  {"mark":{"type":"area","fillOpacity":0.25},"encoding":{"y":{"field":"lo","type":"quantitative","scale":{"domain":[-0.03,4.04],"nice":false,"zero":false},"axis":{"title":null,"values":[0,1,2,3,4]}},"y2":{"field":"hi"},"color":{"field":"s","type":"nominal"}}},
  {"mark":{"type":"line","strokeWidth":2.4},"encoding":{"y":{"field":"y","type":"quantitative","axis":{"title":null,"values":[0,1,2,3,4]}},"color":{"field":"s","type":"nominal"},"strokeDash":{"field":"s","type":"nominal"}}}
 ]},
{"title":"jaws","width":243,"height":94,"transform":[{"filter":"datum.g=='jw'"}],
 "encoding":{"x":{"field":"x","type":"quantitative","scale":{"domain":[-0.08,10],"nice":false,"zero":false},"axis":{"title":"life","values":[1,2,3,4,5,6,7,8,9,10],"labelExpr":"datum.value==1||datum.value==5||datum.value==10?datum.label:''"}}},
 "layer":[
  {"mark":{"type":"area","fillOpacity":0.25},"encoding":{"y":{"field":"lo","type":"quantitative","scale":{"domain":[-0.03,4.04],"nice":false,"zero":false},"axis":{"title":null,"values":[0,1,2,3,4]}},"y2":{"field":"hi"},"color":{"field":"s","type":"nominal"}}},
  {"mark":{"type":"line","strokeWidth":2.4},"encoding":{"y":{"field":"y","type":"quantitative","axis":{"title":null,"values":[0,1,2,3,4]}},"color":{"field":"s","type":"nominal"},"strokeDash":{"field":"s","type":"nominal"}}}
 ]},
{"title":"missileCommand","width":245,"height":94,"transform":[{"filter":"datum.g=='mc'"}],
 "encoding":{"x":{"field":"x","type":"quantitative","scale":{"domain":[-0.08,10],"nice":false,"zero":false},"axis":{"title":"life","values":[1,2,3,4,5,6,7,8,9,10],"labelExpr":"datum.value==1||datum.value==5||datum.value==10?datum.label:''"}}},
 "layer":[
  {"mark":{"type":"area","fillOpacity":0.25},"encoding":{"y":{"field":"lo","type":"quantitative","scale":{"domain":[-0.03,4.04],"nice":false,"zero":false},"axis":{"title":null,"values":[0,1,2,3,4]}},"y2":{"field":"hi"},"color":{"field":"s","type":"nominal"}}},
  {"mark":{"type":"line","strokeWidth":2.4},"encoding":{"y":{"field":"y","type":"quantitative","axis":{"title":null,"values":[0,1,2,3,4]}},"color":{"field":"s","type":"nominal"},"strokeDash":{"field":"s","type":"nominal"}}}
 ]},
{"title":"plaqueAttack","width":234,"height":94,"transform":[{"filter":"datum.g=='pa'"}],
 "encoding":{"x":{"field":"x","type":"quantitative","scale":{"domain":[-0.08,10],"nice":false,"zero":false},"axis":{"title":"life","values":[1,2,3,4,5,6,7,8,9,10],"labelExpr":"datum.value==1||datum.value==5||datum.value==10?datum.label:''"}}},
 "layer":[
  {"mark":{"type":"area","fillOpacity":0.25},"encoding":{"y":{"field":"lo","type":"quantitative","scale":{"domain":[-0.03,4.04],"nice":false,"zero":false},"axis":{"title":"levels solved","values":[0,1,2,3,4]}},"y2":{"field":"hi"},"color":{"field":"s","type":"nominal"}}},
  {"mark":{"type":"line","strokeWidth":2.4},"encoding":{"y":{"field":"y","type":"quantitative","axis":{"title":"levels solved","values":[0,1,2,3,4]}},"color":{"field":"s","type":"nominal"},"strokeDash":{"field":"s","type":"nominal"}}}
 ]},
{"title":"portals","width":246,"height":94,"transform":[{"filter":"datum.g=='po'"}],
 "encoding":{"x":{"field":"x","type":"quantitative","scale":{"domain":[-0.08,10],"nice":false,"zero":false},"axis":{"title":"life","values":[1,2,3,4,5,6,7,8,9,10],"labelExpr":"datum.value==1||datum.value==5||datum.value==10?datum.label:''"}}},
 "layer":[
  {"mark":{"type":"area","fillOpacity":0.25},"encoding":{"y":{"field":"lo","type":"quantitative","scale":{"domain":[-0.03,4.04],"nice":false,"zero":false},"axis":{"title":null,"values":[0,1,2,3,4]}},"y2":{"field":"hi"},"color":{"field":"s","type":"nominal"}}},
  {"mark":{"type":"line","strokeWidth":2.4},"encoding":{"y":{"field":"y","type":"quantitative","axis":{"title":null,"values":[0,1,2,3,4]}},"color":{"field":"s","type":"nominal"},"strokeDash":{"field":"s","type":"nominal"}}}
 ]},
{"title":"preconditions","width":248,"height":94,"transform":[{"filter":"datum.g=='pc'"}],
 "encoding":{"x":{"field":"x","type":"quantitative","scale":{"domain":[-0.08,10],"nice":false,"zero":false},"axis":{"title":"life","values":[1,2,3,4,5,6,7,8,9,10],"labelExpr":"datum.value==1||datum.value==5||datum.value==10?datum.label:''"}}},
 "layer":[
  {"mark":{"type":"area","fillOpacity":0.25},"encoding":{"y":{"field":"lo","type":"quantitative","scale":{"domain":[-0.03,4.04],"nice":false,"zero":false},"axis":{"title":null,"values":[0,1,2,3,4]}},"y2":{"field":"hi"},"color":{"field":"s","type":"nominal"}}},
  {"mark":{"type":"line","strokeWidth":2.4},"encoding":{"y":{"field":"y","type":"quantitative","axis":{"title":null,"values":[0,1,2,3,4]}},"color":{"field":"s","type":"nominal"},"strokeDash":{"field":"s","type":"nominal"}}}
 ]},
{"title":"pushBoulders","width":243,"height":94,"transform":[{"filter":"datum.g=='pb'"}],
 "encoding":{"x":{"field":"x","type":"quantitative","scale":{"domain":[-0.08,10],"nice":false,"zero":false},"axis":{"title":"life","values":[1,2,3,4,5,6,7,8,9,10],"labelExpr":"datum.value==1||datum.value==5||datum.value==10?datum.label:''"}}},
 "layer":[
  {"mark":{"type":"area","fillOpacity":0.25},"encoding":{"y":{"field":"lo","type":"quantitative","scale":{"domain":[-0.03,4.04],"nice":false,"zero":false},"axis":{"title":null,"values":[0,1,2,3,4]}},"y2":{"field":"hi"},"color":{"field":"s","type":"nominal"}}},
  {"mark":{"type":"line","strokeWidth":2.4},"encoding":{"y":{"field":"y","type":"quantitative","axis":{"title":null,"values":[0,1,2,3,4]}},"color":{"field":"s","type":"nominal"},"strokeDash":{"field":"s","type":"nominal"}}}
 ]},
{"title":"relational","width":245,"height":94,"transform":[{"filter":"datum.g=='re'"}],
 "encoding":{"x":{"field":"x","type":"quantitative","scale":{"domain":[-0.08,10],"nice":false,"zero":false},"axis":{"title":"life","values":[1,2,3,4,5,6,7,8,9,10],"labelExpr":"datum.value==1||datum.value==5||datum.value==10?datum.label:''"}}},
 "layer":[
  {"mark":{"type":"area","fillOpacity":0.25},"encoding":{"y":{"field":"lo","type":"quantitative","scale":{"domain":[-0.03,4.04],"nice":false,"zero":false},"axis":{"title":null,"values":[0,1,2,3,4]}},"y2":{"field":"hi"},"color":{"field":"s","type":"nominal"}}},
  {"mark":{"type":"line","strokeWidth":2.4},"encoding":{"y":{"field":"y","type":"quantitative","axis":{"title":null,"values":[0,1,2,3,4]}},"color":{"field":"s","type":"nominal"},"strokeDash":{"field":"s","type":"nominal"}}}
 ]}
],
"config":{
 "font":"DejaVu Sans",
 "view":{"stroke":"black","strokeWidth":1.5},
 "axis":{"grid":false,"labelFont":"DejaVu Sans","labelFontWeight":"bold","labelFontSize":11,"labelColor":"black","titleFont":"DejaVu Sans","titleFontWeight":"bold","titleFontSize":11,"titleColor":"black","domainColor":"black","domainWidth":1.5,"tickColor":"black","tickWidth":1.5,"tickSize":4,"labelPadding":1,"titlePadding":0},
 "axisY":{"titlePadding":0},
 "title":{"font":"DejaVu Sans","fontSize":12.5,"fontWeight":"bold","color":"black","offset":-4}
}
}
